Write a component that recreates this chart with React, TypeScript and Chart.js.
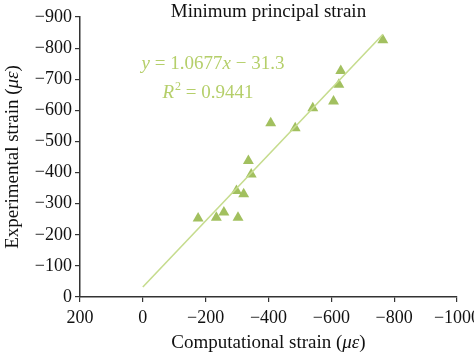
import React, { useEffect, useRef } from "react";
import { Chart, registerables } from "chart.js";

Chart.register(...registerables);

const computational = [-176, -234, -258, -303, -298, -321, -336, -345, -407, -485, -541, -607, -624, -630, -764];
const experimental = [-253, -255, -272, -255, -341, -331, -438, -394, -559, -543, -607, -629, -683, -727, -826];
const trendX = [0, -763];
const trendY = [-32, -843];
const xTicks = [200, 0, -200, -400, -600, -800, -1000];
const yTicks = [0, -100, -200, -300, -400, -500, -600, -700, -800, -900];

const SERIF = "'Liberation Serif', 'DejaVu Serif', serif";
const fmt = (v: number) => (v < 0 ? "\u2212" + Math.abs(v) : String(v));
const FS = 19;

const textPlugin = {
  id: "texts",
  afterDraw(chart: any) {
    const ctx = chart.ctx;
    const area = chart.chartArea;
    ctx.save();
    ctx.textBaseline = "middle";
    ctx.textAlign = "left";
    const drawParts = (parts: [string, boolean][], cx: number, cy: number) => {
      let total = 0;
      for (const [t, it] of parts) {
        ctx.font = `${it ? "italic " : ""}${FS}px ${SERIF}`;
        total += ctx.measureText(t).width;
      }
      let x = cx - total / 2;
      for (const [t, it] of parts) {
        ctx.font = `${it ? "italic " : ""}${FS}px ${SERIF}`;
        ctx.fillText(t, x, cy);
        x += ctx.measureText(t).width;
      }
    };
    ctx.fillStyle = "#111";
    const cx = (area.left + area.right) / 2;
    drawParts([["Minimum principal strain", false]], cx, 12);
    drawParts([["Computational strain (", false], ["\u03bc\u03b5", true], [")", false]], cx, 343);
    ctx.save();
    ctx.translate(13, (area.top + area.bottom) / 2);
    ctx.rotate(-Math.PI / 2);
    drawParts([["Experimental strain (", false], ["\u03bc\u03b5", true], [")", false]], 0, 0);
    ctx.restore();

    // equation
    ctx.fillStyle = "#b5cf6a";
    drawParts([["y", true], [" = 1.0677", false], ["x", true], [" \u2212 31.3", false]], 213, 64);
    // R^2 line
    ctx.font = `italic ${FS}px ${SERIF}`;
    const wR = ctx.measureText("R").width + 1;
    ctx.font = `12px ${SERIF}`;
    const w2 = ctx.measureText("2").width;
    ctx.font = `${FS}px ${SERIF}`;
    const wRest = ctx.measureText(" = 0.9441").width;
    let x0 = 208 - (wR + w2 + wRest) / 2;
    ctx.font = `italic ${FS}px ${SERIF}`;
    ctx.fillText("R", x0, 93);
    x0 += wR;
    ctx.font = `12px ${SERIF}`;
    ctx.fillText("2", x0, 87);
    x0 += w2;
    ctx.font = `${FS}px ${SERIF}`;
    ctx.fillText(" = 0.9441", x0, 93);
    ctx.restore();
  },
};

export default function App() {
  const ref = useRef<HTMLCanvasElement>(null);
  useEffect(() => {
    if (!ref.current) return;
    const points = computational.map((x, i) => ({ x, y: experimental[i] }));
    const trend = trendX.map((x, i) => ({ x, y: trendY[i] }));
    const chart = new Chart(ref.current, {
      type: "scatter",
      data: {
        datasets: [
          {
            type: "line",
            data: trend,
            borderColor: "#c6dc8e",
            borderWidth: 1.6,
            pointRadius: 0,
            fill: false,
          } as any,
          {
            data: points,
            pointStyle: "triangle",
            pointRadius: 6.3,
            backgroundColor: "#a2c05f",
            borderColor: "#a2c05f",
            borderWidth: 0,
          },
        ],
      },
      options: {
        animation: false,
        responsive: false,
        layout: { padding: { top: 17, right: 17, left: 0, bottom: 0 } },
        plugins: { legend: { display: false }, tooltip: { enabled: false } },
        scales: {
          x: {
            type: "linear",
            reverse: true,
            min: -1000,
            max: 200,
            afterBuildTicks: (s: any) => {
              s.ticks = xTicks.map((v) => ({ value: v }));
            },
            afterFit: (s: any) => {
              s.height = 59;
              s.paddingLeft = 0;
              s.paddingRight = 0;
            },
            ticks: {
              callback: (v: any) => fmt(Number(v)),
              font: { family: SERIF, size: 18 },
              color: "#111",
              padding: 5,
              maxRotation: 0,
              autoSkip: false,
            },
            grid: { drawOnChartArea: false, drawTicks: true, tickLength: 5, color: "#333", lineWidth: 1.2 },
            border: { display: true, color: "#333", width: 1.5 },
          },
          y: {
            type: "linear",
            reverse: true,
            min: -900,
            max: 0,
            afterBuildTicks: (s: any) => {
              s.ticks = yTicks.map((v) => ({ value: v }));
            },
            afterFit: (s: any) => {
              s.width = 80;
              s.paddingTop = 0;
              s.paddingBottom = 0;
            },
            ticks: {
              callback: (v: any) => fmt(Number(v)),
              font: { family: SERIF, size: 18 },
              color: "#111",
              padding: 3,
              autoSkip: false,
            },
            grid: { drawOnChartArea: false, drawTicks: true, tickLength: 5, color: "#333", lineWidth: 1.2 },
            border: { display: true, color: "#333", width: 1.5 },
          },
        },
      },
      plugins: [textPlugin],
    });
    return () => chart.destroy();
  }, []);
  return (
    <div style={{ position: "fixed", left: 0, top: 0, width: 474, height: 356, background: "#fff" }}>
      <canvas ref={ref} width={474} height={356} />
    </div>
  );
}
